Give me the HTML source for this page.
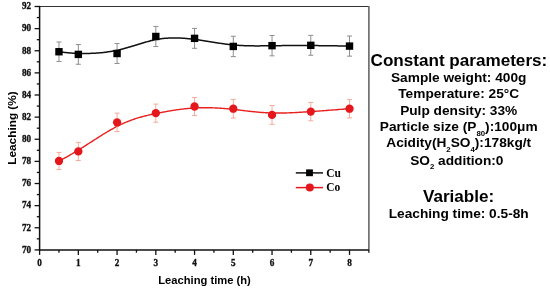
<!DOCTYPE html>
<html><head><meta charset="utf-8"><style>
html,body{margin:0;padding:0;background:#fff;width:550px;height:288px;overflow:hidden}
svg{display:block}
.tl{font-family:"Liberation Serif",serif;font-weight:bold;font-size:10.2px;fill:#111;stroke:#111;stroke-width:0.35px}
.lg{font-family:"Liberation Serif",serif;font-weight:bold;font-size:12.5px;fill:#000}
.at{font-family:"Liberation Sans",sans-serif;font-weight:bold;font-size:11px;fill:#000}
.h1{font-family:"Liberation Sans",sans-serif;font-weight:bold;font-size:17.1px;fill:#000}
.p{font-family:"Liberation Sans",sans-serif;font-weight:bold;font-size:13.7px;fill:#000}
.sub{font-size:7.8px}
</style></head><body>
<svg width="550" height="288" viewBox="0 0 550 288">
<rect x="0" y="0" width="550" height="288" fill="#fff"/>
<line x1="39.60" y1="6.49" x2="368.89" y2="6.49" stroke="#333" stroke-width="1.2"/>
<line x1="368.89" y1="5.89" x2="368.89" y2="249.90" stroke="#666" stroke-width="1.6"/>
<line x1="39.60" y1="5.89" x2="39.60" y2="250.65" stroke="#111" stroke-width="1.5"/>
<line x1="38.85" y1="249.90" x2="368.89" y2="249.90" stroke="#111" stroke-width="1.5"/>
<line x1="34.60" y1="249.90" x2="39.60" y2="249.90" stroke="#111" stroke-width="1.3"/>
<text transform="translate(31.2,252.75) scale(0.9,1)" class="tl" text-anchor="end">70</text>
<line x1="36.80" y1="238.84" x2="39.60" y2="238.84" stroke="#111" stroke-width="1.3"/>
<line x1="34.60" y1="227.77" x2="39.60" y2="227.77" stroke="#111" stroke-width="1.3"/>
<text transform="translate(31.2,230.62) scale(0.9,1)" class="tl" text-anchor="end">72</text>
<line x1="36.80" y1="216.71" x2="39.60" y2="216.71" stroke="#111" stroke-width="1.3"/>
<line x1="34.60" y1="205.64" x2="39.60" y2="205.64" stroke="#111" stroke-width="1.3"/>
<text transform="translate(31.2,208.49) scale(0.9,1)" class="tl" text-anchor="end">74</text>
<line x1="36.80" y1="194.58" x2="39.60" y2="194.58" stroke="#111" stroke-width="1.3"/>
<line x1="34.60" y1="183.52" x2="39.60" y2="183.52" stroke="#111" stroke-width="1.3"/>
<text transform="translate(31.2,186.37) scale(0.9,1)" class="tl" text-anchor="end">76</text>
<line x1="36.80" y1="172.45" x2="39.60" y2="172.45" stroke="#111" stroke-width="1.3"/>
<line x1="34.60" y1="161.39" x2="39.60" y2="161.39" stroke="#111" stroke-width="1.3"/>
<text transform="translate(31.2,164.24) scale(0.9,1)" class="tl" text-anchor="end">78</text>
<line x1="36.80" y1="150.32" x2="39.60" y2="150.32" stroke="#111" stroke-width="1.3"/>
<line x1="34.60" y1="139.26" x2="39.60" y2="139.26" stroke="#111" stroke-width="1.3"/>
<text transform="translate(31.2,142.11) scale(0.9,1)" class="tl" text-anchor="end">80</text>
<line x1="36.80" y1="128.20" x2="39.60" y2="128.20" stroke="#111" stroke-width="1.3"/>
<line x1="34.60" y1="117.13" x2="39.60" y2="117.13" stroke="#111" stroke-width="1.3"/>
<text transform="translate(31.2,119.98) scale(0.9,1)" class="tl" text-anchor="end">82</text>
<line x1="36.80" y1="106.07" x2="39.60" y2="106.07" stroke="#111" stroke-width="1.3"/>
<line x1="34.60" y1="95.00" x2="39.60" y2="95.00" stroke="#111" stroke-width="1.3"/>
<text transform="translate(31.2,97.85) scale(0.9,1)" class="tl" text-anchor="end">84</text>
<line x1="36.80" y1="83.94" x2="39.60" y2="83.94" stroke="#111" stroke-width="1.3"/>
<line x1="34.60" y1="72.88" x2="39.60" y2="72.88" stroke="#111" stroke-width="1.3"/>
<text transform="translate(31.2,75.73) scale(0.9,1)" class="tl" text-anchor="end">86</text>
<line x1="36.80" y1="61.81" x2="39.60" y2="61.81" stroke="#111" stroke-width="1.3"/>
<line x1="34.60" y1="50.75" x2="39.60" y2="50.75" stroke="#111" stroke-width="1.3"/>
<text transform="translate(31.2,53.60) scale(0.9,1)" class="tl" text-anchor="end">88</text>
<line x1="36.80" y1="39.68" x2="39.60" y2="39.68" stroke="#111" stroke-width="1.3"/>
<line x1="34.60" y1="28.62" x2="39.60" y2="28.62" stroke="#111" stroke-width="1.3"/>
<text transform="translate(31.2,31.47) scale(0.9,1)" class="tl" text-anchor="end">90</text>
<line x1="36.80" y1="17.56" x2="39.60" y2="17.56" stroke="#111" stroke-width="1.3"/>
<line x1="34.60" y1="6.49" x2="39.60" y2="6.49" stroke="#111" stroke-width="1.3"/>
<text transform="translate(31.2,9.34) scale(0.9,1)" class="tl" text-anchor="end">92</text>
<line x1="39.60" y1="249.90" x2="39.60" y2="254.90" stroke="#111" stroke-width="1.3"/>
<text transform="translate(39.60,265.8) scale(0.9,1)" class="tl" text-anchor="middle">0</text>
<line x1="58.97" y1="249.90" x2="58.97" y2="252.70" stroke="#111" stroke-width="1.3"/>
<line x1="78.34" y1="249.90" x2="78.34" y2="254.90" stroke="#111" stroke-width="1.3"/>
<text transform="translate(78.34,265.8) scale(0.9,1)" class="tl" text-anchor="middle">1</text>
<line x1="97.71" y1="249.90" x2="97.71" y2="252.70" stroke="#111" stroke-width="1.3"/>
<line x1="117.08" y1="249.90" x2="117.08" y2="254.90" stroke="#111" stroke-width="1.3"/>
<text transform="translate(117.08,265.8) scale(0.9,1)" class="tl" text-anchor="middle">2</text>
<line x1="136.45" y1="249.90" x2="136.45" y2="252.70" stroke="#111" stroke-width="1.3"/>
<line x1="155.82" y1="249.90" x2="155.82" y2="254.90" stroke="#111" stroke-width="1.3"/>
<text transform="translate(155.82,265.8) scale(0.9,1)" class="tl" text-anchor="middle">3</text>
<line x1="175.19" y1="249.90" x2="175.19" y2="252.70" stroke="#111" stroke-width="1.3"/>
<line x1="194.56" y1="249.90" x2="194.56" y2="254.90" stroke="#111" stroke-width="1.3"/>
<text transform="translate(194.56,265.8) scale(0.9,1)" class="tl" text-anchor="middle">4</text>
<line x1="213.93" y1="249.90" x2="213.93" y2="252.70" stroke="#111" stroke-width="1.3"/>
<line x1="233.30" y1="249.90" x2="233.30" y2="254.90" stroke="#111" stroke-width="1.3"/>
<text transform="translate(233.30,265.8) scale(0.9,1)" class="tl" text-anchor="middle">5</text>
<line x1="252.67" y1="249.90" x2="252.67" y2="252.70" stroke="#111" stroke-width="1.3"/>
<line x1="272.04" y1="249.90" x2="272.04" y2="254.90" stroke="#111" stroke-width="1.3"/>
<text transform="translate(272.04,265.8) scale(0.9,1)" class="tl" text-anchor="middle">6</text>
<line x1="291.41" y1="249.90" x2="291.41" y2="252.70" stroke="#111" stroke-width="1.3"/>
<line x1="310.78" y1="249.90" x2="310.78" y2="254.90" stroke="#111" stroke-width="1.3"/>
<text transform="translate(310.78,265.8) scale(0.9,1)" class="tl" text-anchor="middle">7</text>
<line x1="330.15" y1="249.90" x2="330.15" y2="252.70" stroke="#111" stroke-width="1.3"/>
<line x1="349.52" y1="249.90" x2="349.52" y2="254.90" stroke="#111" stroke-width="1.3"/>
<text transform="translate(349.52,265.8) scale(0.9,1)" class="tl" text-anchor="middle">8</text>
<line x1="368.89" y1="249.90" x2="368.89" y2="252.70" stroke="#111" stroke-width="1.3"/>
<path d="M58.97,51.74 L60.14,51.90 L61.30,52.05 L62.47,52.19 L63.63,52.32 L64.80,52.45 L65.96,52.57 L67.12,52.68 L68.29,52.79 L69.45,52.88 L70.60,52.97 L71.76,53.05 L72.92,53.13 L74.07,53.20 L75.22,53.26 L76.37,53.31 L77.52,53.36 L78.67,53.40 L79.81,53.43 L80.95,53.46 L82.08,53.47 L83.22,53.49 L84.35,53.49 L85.47,53.49 L86.60,53.48 L87.71,53.46 L88.83,53.44 L89.94,53.41 L91.05,53.37 L92.15,53.33 L93.25,53.28 L94.34,53.22 L95.43,53.15 L96.51,53.08 L97.59,53.00 L98.66,52.92 L99.73,52.83 L100.79,52.73 L101.85,52.63 L102.90,52.52 L103.94,52.40 L104.98,52.27 L106.01,52.14 L107.04,52.01 L108.06,51.86 L109.07,51.71 L110.07,51.56 L111.07,51.39 L112.06,51.22 L113.04,51.05 L114.01,50.86 L114.98,50.68 L115.94,50.48 L116.89,50.28 L117.83,50.08 L118.77,49.87 L119.70,49.65 L120.63,49.43 L121.54,49.21 L122.45,48.98 L123.36,48.74 L124.25,48.51 L125.14,48.27 L126.03,48.03 L126.91,47.78 L127.78,47.54 L128.65,47.29 L129.52,47.04 L130.37,46.78 L131.23,46.53 L132.08,46.28 L132.92,46.02 L133.76,45.76 L134.59,45.51 L135.43,45.25 L136.25,45.00 L137.08,44.74 L137.90,44.49 L138.71,44.24 L139.52,43.99 L140.33,43.74 L141.14,43.49 L141.94,43.25 L142.74,43.01 L143.54,42.77 L144.34,42.53 L145.13,42.30 L145.92,42.07 L146.71,41.85 L147.50,41.63 L148.28,41.41 L149.07,41.20 L149.85,41.00 L150.63,40.80 L151.41,40.60 L152.19,40.42 L152.97,40.24 L153.75,40.06 L154.52,39.89 L155.30,39.73 L156.08,39.58 L156.86,39.43 L157.63,39.29 L158.41,39.16 L159.19,39.04 L159.97,38.92 L160.74,38.81 L161.52,38.71 L162.30,38.62 L163.08,38.53 L163.85,38.44 L164.63,38.37 L165.41,38.30 L166.19,38.24 L166.96,38.18 L167.74,38.13 L168.52,38.09 L169.29,38.05 L170.07,38.02 L170.85,37.99 L171.63,37.97 L172.40,37.95 L173.18,37.94 L173.96,37.94 L174.74,37.94 L175.51,37.94 L176.29,37.95 L177.07,37.97 L177.85,37.99 L178.62,38.01 L179.40,38.04 L180.18,38.08 L180.96,38.11 L181.73,38.16 L182.51,38.20 L183.29,38.25 L184.07,38.31 L184.84,38.37 L185.62,38.43 L186.40,38.50 L187.17,38.57 L187.95,38.64 L188.73,38.72 L189.51,38.80 L190.28,38.88 L191.06,38.97 L191.84,39.06 L192.62,39.15 L193.39,39.24 L194.17,39.34 L194.95,39.44 L195.73,39.54 L196.50,39.65 L197.28,39.75 L198.06,39.86 L198.84,39.97 L199.61,40.09 L200.39,40.20 L201.17,40.32 L201.95,40.43 L202.72,40.55 L203.50,40.67 L204.28,40.79 L205.05,40.92 L205.83,41.04 L206.61,41.16 L207.39,41.29 L208.16,41.41 L208.94,41.54 L209.72,41.66 L210.50,41.79 L211.27,41.91 L212.05,42.04 L212.83,42.16 L213.61,42.29 L214.38,42.41 L215.16,42.54 L215.94,42.66 L216.72,42.78 L217.49,42.90 L218.27,43.02 L219.05,43.14 L219.83,43.26 L220.60,43.37 L221.38,43.49 L222.16,43.60 L222.93,43.71 L223.71,43.82 L224.49,43.93 L225.27,44.03 L226.04,44.14 L226.82,44.24 L227.60,44.33 L228.38,44.43 L229.15,44.52 L229.93,44.61 L230.71,44.69 L231.49,44.78 L232.26,44.86 L233.04,44.93 L233.82,45.01 L234.60,45.08 L235.37,45.14 L236.15,45.20 L236.93,45.26 L237.71,45.32 L238.49,45.37 L239.27,45.42 L240.05,45.47 L240.84,45.51 L241.62,45.55 L242.41,45.59 L243.20,45.62 L243.99,45.66 L244.78,45.69 L245.58,45.72 L246.38,45.74 L247.18,45.76 L247.98,45.78 L248.79,45.80 L249.60,45.82 L250.41,45.83 L251.22,45.85 L252.04,45.86 L252.87,45.87 L253.69,45.87 L254.53,45.88 L255.36,45.88 L256.20,45.88 L257.04,45.88 L257.89,45.88 L258.75,45.88 L259.60,45.88 L260.47,45.87 L261.34,45.87 L262.21,45.86 L263.09,45.85 L263.98,45.85 L264.87,45.84 L265.76,45.83 L266.67,45.82 L267.58,45.81 L268.49,45.79 L269.42,45.78 L270.35,45.77 L271.29,45.76 L272.23,45.75 L273.18,45.73 L274.14,45.72 L275.11,45.71 L276.08,45.69 L277.06,45.68 L278.06,45.67 L279.06,45.66 L280.07,45.65 L281.10,45.63 L282.13,45.62 L283.18,45.61 L284.25,45.60 L285.32,45.59 L286.42,45.58 L287.53,45.57 L288.66,45.57 L289.80,45.56 L290.97,45.55 L292.15,45.55 L293.35,45.54 L294.58,45.54 L295.82,45.53 L297.09,45.53 L298.38,45.53 L299.70,45.53 L301.04,45.53 L302.41,45.53 L303.80,45.53 L305.22,45.54 L306.67,45.54 L308.15,45.55 L309.66,45.56 L311.19,45.57 L312.76,45.58 L314.36,45.59 L315.99,45.60 L317.66,45.62 L319.36,45.63 L321.10,45.65 L322.87,45.67 L324.68,45.69 L326.52,45.72 L328.41,45.74 L330.33,45.77 L332.29,45.80 L334.30,45.83 L336.34,45.86 L338.43,45.90 L340.56,45.93 L342.73,45.97 L344.95,46.01 L347.21,46.06 L349.52,46.10" fill="none" stroke="#111" stroke-width="1.5"/>
<path d="M58.97,160.95 L60.14,160.37 L61.30,159.78 L62.47,159.17 L63.63,158.56 L64.80,157.94 L65.96,157.31 L67.12,156.67 L68.29,156.02 L69.45,155.36 L70.60,154.70 L71.76,154.02 L72.92,153.35 L74.07,152.66 L75.22,151.97 L76.37,151.28 L77.52,150.58 L78.67,149.88 L79.81,149.17 L80.95,148.46 L82.08,147.75 L83.22,147.04 L84.35,146.33 L85.47,145.61 L86.60,144.90 L87.71,144.19 L88.83,143.47 L89.94,142.76 L91.05,142.05 L92.15,141.34 L93.25,140.64 L94.34,139.94 L95.43,139.24 L96.51,138.55 L97.59,137.86 L98.66,137.18 L99.73,136.51 L100.79,135.84 L101.85,135.18 L102.90,134.52 L103.94,133.88 L104.98,133.24 L106.01,132.61 L107.04,131.99 L108.06,131.39 L109.07,130.79 L110.07,130.21 L111.07,129.63 L112.06,129.07 L113.04,128.52 L114.01,127.99 L114.98,127.47 L115.94,126.96 L116.89,126.47 L117.83,125.98 L118.77,125.52 L119.70,125.06 L120.63,124.62 L121.54,124.19 L122.45,123.77 L123.36,123.36 L124.25,122.96 L125.14,122.58 L126.03,122.20 L126.91,121.84 L127.78,121.48 L128.65,121.14 L129.52,120.80 L130.37,120.48 L131.23,120.16 L132.08,119.86 L132.92,119.56 L133.76,119.27 L134.59,118.99 L135.43,118.71 L136.25,118.45 L137.08,118.19 L137.90,117.94 L138.71,117.69 L139.52,117.45 L140.33,117.22 L141.14,116.99 L141.94,116.77 L142.74,116.56 L143.54,116.35 L144.34,116.15 L145.13,115.95 L145.92,115.75 L146.71,115.56 L147.50,115.38 L148.28,115.19 L149.07,115.02 L149.85,114.84 L150.63,114.67 L151.41,114.50 L152.19,114.33 L152.97,114.16 L153.75,114.00 L154.52,113.84 L155.30,113.68 L156.08,113.52 L156.86,113.36 L157.63,113.21 L158.41,113.05 L159.19,112.90 L159.97,112.74 L160.74,112.59 L161.52,112.44 L162.30,112.29 L163.08,112.14 L163.85,112.00 L164.63,111.85 L165.41,111.71 L166.19,111.57 L166.96,111.43 L167.74,111.29 L168.52,111.15 L169.29,111.02 L170.07,110.89 L170.85,110.76 L171.63,110.63 L172.40,110.50 L173.18,110.38 L173.96,110.26 L174.74,110.14 L175.51,110.02 L176.29,109.90 L177.07,109.79 L177.85,109.68 L178.62,109.57 L179.40,109.47 L180.18,109.36 L180.96,109.26 L181.73,109.17 L182.51,109.07 L183.29,108.98 L184.07,108.89 L184.84,108.80 L185.62,108.72 L186.40,108.64 L187.17,108.56 L187.95,108.49 L188.73,108.42 L189.51,108.35 L190.28,108.28 L191.06,108.22 L191.84,108.16 L192.62,108.11 L193.39,108.06 L194.17,108.01 L194.95,107.96 L195.73,107.92 L196.50,107.89 L197.28,107.85 L198.06,107.82 L198.84,107.79 L199.61,107.77 L200.39,107.75 L201.17,107.73 L201.95,107.72 L202.72,107.71 L203.50,107.70 L204.28,107.70 L205.05,107.69 L205.83,107.70 L206.61,107.70 L207.39,107.71 L208.16,107.72 L208.94,107.73 L209.72,107.75 L210.50,107.77 L211.27,107.79 L212.05,107.81 L212.83,107.84 L213.61,107.87 L214.38,107.90 L215.16,107.94 L215.94,107.98 L216.72,108.02 L217.49,108.06 L218.27,108.10 L219.05,108.15 L219.83,108.20 L220.60,108.25 L221.38,108.31 L222.16,108.36 L222.93,108.42 L223.71,108.48 L224.49,108.54 L225.27,108.61 L226.04,108.67 L226.82,108.74 L227.60,108.81 L228.38,108.89 L229.15,108.96 L229.93,109.04 L230.71,109.12 L231.49,109.19 L232.26,109.28 L233.04,109.36 L233.82,109.44 L234.60,109.53 L235.37,109.62 L236.15,109.71 L236.93,109.80 L237.71,109.89 L238.49,109.98 L239.27,110.07 L240.05,110.17 L240.84,110.26 L241.62,110.35 L242.41,110.45 L243.20,110.54 L243.99,110.64 L244.78,110.73 L245.58,110.83 L246.38,110.92 L247.18,111.02 L247.98,111.11 L248.79,111.20 L249.60,111.29 L250.41,111.38 L251.22,111.47 L252.04,111.56 L252.87,111.65 L253.69,111.74 L254.53,111.82 L255.36,111.90 L256.20,111.98 L257.04,112.06 L257.89,112.14 L258.75,112.21 L259.60,112.29 L260.47,112.36 L261.34,112.43 L262.21,112.49 L263.09,112.55 L263.98,112.61 L264.87,112.67 L265.76,112.72 L266.67,112.77 L267.58,112.82 L268.49,112.86 L269.42,112.90 L270.35,112.94 L271.29,112.97 L272.23,113.00 L273.18,113.02 L274.14,113.04 L275.11,113.05 L276.08,113.07 L277.06,113.07 L278.06,113.07 L279.06,113.07 L280.07,113.06 L281.10,113.05 L282.13,113.04 L283.18,113.02 L284.25,112.99 L285.32,112.96 L286.42,112.93 L287.53,112.89 L288.66,112.85 L289.80,112.81 L290.97,112.76 L292.15,112.71 L293.35,112.65 L294.58,112.59 L295.82,112.52 L297.09,112.45 L298.38,112.38 L299.70,112.31 L301.04,112.22 L302.41,112.14 L303.80,112.05 L305.22,111.96 L306.67,111.87 L308.15,111.77 L309.66,111.66 L311.19,111.56 L312.76,111.45 L314.36,111.33 L315.99,111.22 L317.66,111.10 L319.36,110.97 L321.10,110.85 L322.87,110.71 L324.68,110.58 L326.52,110.44 L328.41,110.30 L330.33,110.16 L332.29,110.01 L334.30,109.86 L336.34,109.71 L338.43,109.55 L340.56,109.39 L342.73,109.23 L344.95,109.06 L347.21,108.90 L349.52,108.72" fill="none" stroke="#e8201e" stroke-width="1.4"/>
<path d="M58.97,42.01 V61.48 M56.47,42.01 H61.47 M56.47,61.48 H61.47" stroke="#8e8e8e" stroke-width="1" fill="none"/>
<path d="M78.34,44.55 V64.25 M75.84,44.55 H80.84 M75.84,64.25 H80.84" stroke="#8e8e8e" stroke-width="1" fill="none"/>
<path d="M117.08,43.56 V63.47 M114.58,43.56 H119.58 M114.58,63.47 H119.58" stroke="#8e8e8e" stroke-width="1" fill="none"/>
<path d="M155.82,26.41 V46.54 M153.32,26.41 H158.32 M153.32,46.54 H158.32" stroke="#8e8e8e" stroke-width="1" fill="none"/>
<path d="M194.56,28.40 V48.31 M192.06,28.40 H197.06 M192.06,48.31 H197.06" stroke="#8e8e8e" stroke-width="1" fill="none"/>
<path d="M233.30,36.25 V56.61 M230.80,36.25 H235.80 M230.80,56.61 H235.80" stroke="#8e8e8e" stroke-width="1" fill="none"/>
<path d="M272.04,35.48 V55.84 M269.54,35.48 H274.54 M269.54,55.84 H274.54" stroke="#8e8e8e" stroke-width="1" fill="none"/>
<path d="M310.78,35.37 V55.28 M308.28,35.37 H313.28 M308.28,55.28 H313.28" stroke="#8e8e8e" stroke-width="1" fill="none"/>
<path d="M349.52,36.03 V56.17 M347.02,36.03 H352.02 M347.02,56.17 H352.02" stroke="#8e8e8e" stroke-width="1" fill="none"/>
<path d="M58.97,152.43 V169.46 M56.47,152.43 H61.47 M56.47,169.46 H61.47" stroke="#f5ab98" stroke-width="1" fill="none"/>
<path d="M78.34,142.36 V160.50 M75.84,142.36 H80.84 M75.84,160.50 H80.84" stroke="#f5ab98" stroke-width="1" fill="none"/>
<path d="M117.08,113.15 V131.52 M114.58,113.15 H119.58 M114.58,131.52 H119.58" stroke="#f5ab98" stroke-width="1" fill="none"/>
<path d="M155.82,104.08 V122.22 M153.32,104.08 H158.32 M153.32,122.22 H158.32" stroke="#f5ab98" stroke-width="1" fill="none"/>
<path d="M194.56,97.44 V115.58 M192.06,97.44 H197.06 M192.06,115.58 H197.06" stroke="#f5ab98" stroke-width="1" fill="none"/>
<path d="M233.30,99.43 V118.02 M230.80,99.43 H235.80 M230.80,118.02 H235.80" stroke="#f5ab98" stroke-width="1" fill="none"/>
<path d="M272.04,105.51 V124.32 M269.54,105.51 H274.54 M269.54,124.32 H274.54" stroke="#f5ab98" stroke-width="1" fill="none"/>
<path d="M310.78,102.42 V120.78 M308.28,102.42 H313.28 M308.28,120.78 H313.28" stroke="#f5ab98" stroke-width="1" fill="none"/>
<path d="M349.52,99.54 V117.91 M347.02,99.54 H352.02 M347.02,117.91 H352.02" stroke="#f5ab98" stroke-width="1" fill="none"/>
<rect x="55.27" y="48.04" width="7.4" height="7.4" fill="#000"/>
<rect x="74.64" y="50.70" width="7.4" height="7.4" fill="#000"/>
<rect x="113.38" y="49.81" width="7.4" height="7.4" fill="#000"/>
<rect x="152.12" y="32.78" width="7.4" height="7.4" fill="#000"/>
<rect x="190.86" y="34.66" width="7.4" height="7.4" fill="#000"/>
<rect x="229.60" y="42.73" width="7.4" height="7.4" fill="#000"/>
<rect x="268.34" y="41.96" width="7.4" height="7.4" fill="#000"/>
<rect x="307.08" y="41.63" width="7.4" height="7.4" fill="#000"/>
<rect x="345.82" y="42.40" width="7.4" height="7.4" fill="#000"/>
<circle cx="58.97" cy="160.95" r="4.15" fill="#e3171c"/>
<circle cx="78.34" cy="151.43" r="4.15" fill="#e3171c"/>
<circle cx="117.08" cy="122.33" r="4.15" fill="#e3171c"/>
<circle cx="155.82" cy="113.15" r="4.15" fill="#e3171c"/>
<circle cx="194.56" cy="106.51" r="4.15" fill="#e3171c"/>
<circle cx="233.30" cy="108.72" r="4.15" fill="#e3171c"/>
<circle cx="272.04" cy="114.92" r="4.15" fill="#e3171c"/>
<circle cx="310.78" cy="111.60" r="4.15" fill="#e3171c"/>
<circle cx="349.52" cy="108.72" r="4.15" fill="#e3171c"/>
<line x1="295.8" y1="172.9" x2="323" y2="172.9" stroke="#111" stroke-width="1.5"/>
<rect x="306.1" y="169.4" width="6.8" height="6.8" fill="#000"/>
<text transform="translate(326.2,176.5) scale(0.92,1)" class="lg">Cu</text>
<line x1="295.8" y1="187.6" x2="323" y2="187.6" stroke="#e8191c" stroke-width="1.5"/>
<circle cx="309.8" cy="187.6" r="4" fill="#e3171c"/>
<text transform="translate(326.2,191.2) scale(0.92,1)" class="lg">Co</text>
<text x="204.5" y="283.7" class="at" text-anchor="middle" style="font-size:11.2px">Leaching time (h)</text>
<text transform="translate(16.3,128) rotate(-90)" class="at" style="font-size:11.8px" text-anchor="middle">Leaching (%)</text>
<text x="458.9" y="65.5" class="h1" text-anchor="middle">Constant parameters:</text>
<text x="458.7" y="81.7" class="p" text-anchor="middle">Sample weight: 400g</text>
<text x="458.7" y="98.2" class="p" text-anchor="middle">Temperature: 25°C</text>
<text x="458.7" y="114.7" class="p" text-anchor="middle">Pulp density: 33%</text>
<text x="458.7" y="131.0" class="p" text-anchor="middle">Particle size (P<tspan class="sub" dy="4.7">80</tspan><tspan dy="-4.7">):100μm</tspan></text>
<text x="458.7" y="147.3" class="p" text-anchor="middle">Acidity(H<tspan class="sub" dy="4.7">2</tspan><tspan dy="-4.7">SO</tspan><tspan class="sub" dy="4.7">4</tspan><tspan dy="-4.7">):178kg/t</tspan></text>
<text x="456.8" y="164.6" class="p" text-anchor="middle">SO<tspan class="sub" dy="4.7">2</tspan><tspan dy="-4.7"> addition:0</tspan></text>
<text x="458.6" y="202" class="h1" text-anchor="middle">Variable:</text>
<text x="458.7" y="218.4" class="p" text-anchor="middle">Leaching time: 0.5-8h</text>
</svg>
</body></html>
